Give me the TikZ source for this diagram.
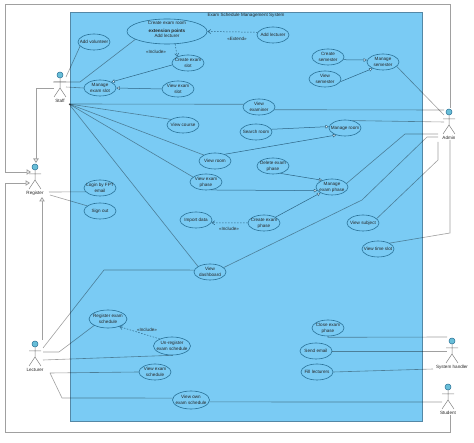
\documentclass[tikz,border=0pt]{standalone}
\usepackage{fontspec}
\setmainfont{Liberation Sans}
\definecolor{sysblue}{RGB}{122,203,244}
\definecolor{sysedge}{RGB}{84,136,166}
\definecolor{ucedge}{RGB}{40,112,150}
\definecolor{linedark}{RGB}{44,100,132}
\definecolor{linegrey}{RGB}{160,160,160}
\definecolor{headfill}{RGB}{104,190,216}
\usetikzlibrary{arrows.meta, shapes.geometric}

\begin{document}
\begin{tikzpicture}[
  x=1pt, y=-1pt,
  usecase/.style={ellipse, draw=ucedge, line width=0.6pt, fill=sysblue,
    minimum width=32pt, minimum height=16pt, inner sep=-4pt,
    align=center, font=\fontsize{4.6}{5.8}\selectfont, text=black!85},
  bigcase/.style={usecase, minimum width=37pt, minimum height=18pt},
  assoc/.style={draw=linegrey, line width=0.6pt, blend mode=multiply},
  part/.style={draw=linedark, line width=0.5pt, -{Triangle[fill=white, length=3.5pt, width=3.5pt]}},
  dep/.style={draw=linedark, line width=0.5pt, dashed, dash pattern=on 1.5pt off 1.5pt, -{Straight Barb[length=3pt, width=4pt]}},
  gen/.style={draw=linegrey, line width=0.8pt, -{Triangle[fill=white, length=4.5pt, width=5.5pt]}},
  tag/.style={font=\fontsize{4.6}{5.6}\selectfont, inner sep=0pt, text=black!85},
  actor/.pic={
    \node[circle, draw=ucedge, fill=headfill, line width=0.5pt, minimum size=6pt, inner sep=0pt] (-head) at (0,0) {};
    \draw[linegrey!80!black, line width=0.5pt] (-head) -- (0,13) (-6,7) -- (6,7) (-6,22) -- (0,13) -- (6,22);
    \node[tag] (-name) at (0,26) {\tikzpictext};
  },
]
\useasboundingbox (0,0) rectangle (474,443);
\node[draw=sysedge, line width=0.9pt, fill=sysblue, minimum width=352pt, minimum height=409pt, inner sep=0pt] (system) at (246,216.5) {};
\node[tag] (systitle) at (246,15) {Exam Schedule Management System};

% use cases
\node[usecase] (addvol) at (94,42) {Add volunteer};
\node[usecase, minimum width=80pt, minimum height=25pt] (croom) at (167,31.5) {};
\node[tag, align=center] (croomtext) at (167,29.5)
  {Create exam room\\[2.5pt]\textbf{extension points}\\Add lecturer};
\node[usecase] (addlect) at (273,35) {Add lecturer};
\node[usecase] (cslot) at (188,63) {Create exam\\slot};
\node[usecase] (mslot) at (100,88) {Manage\\exam slot};
\node[usecase] (vslot) at (178,89) {View exam\\slot};
\node[usecase] (vcourse) at (183,125) {View course};
\node[usecase] (vroom) at (215,161) {View room};
\node[usecase] (vphase) at (206,182) {View exam\\phase};
\node[usecase] (login) at (100,188) {Login by FPT\\email};
\node[usecase] (signout) at (100,211) {Sign out};
\node[usecase] (import) at (196,220) {Import data};
\node[usecase] (cphase) at (264,223) {Create exam\\phase};
\node[usecase] (dphase) at (273,166) {Delete exam\\phase};
\node[usecase] (mphase) at (332,187) {Manage\\exam phase};
\node[usecase] (sroom) at (256,132) {Search room};
\node[usecase] (mroom) at (345,128) {Manage room};
\node[usecase] (vexaminer) at (259,107) {View\\examiner};
\node[usecase] (csem) at (328,57) {Create\\semester};
\node[usecase] (vsem) at (325,79) {View\\semester};
\node[usecase] (msem) at (383,62) {Manage\\semester};
\node[usecase] (vsubject) at (363,223) {View subject};
\node[usecase] (vtime) at (378,249) {View time slot};
\node[usecase] (vdash) at (210,272) {View\\dashboard};
\node[usecase, minimum width=38pt, minimum height=18pt] (regsched) at (108,319) {Register exam\\schedule};
\node[bigcase] (unreg) at (172,346) {Un-register\\exam schedule};
\node[usecase] (vsched) at (155,372) {View exam\\schedule};
\node[bigcase] (vown) at (191,400) {View own\\exam schedule};
\node[usecase] (closep) at (328,328) {Close exam\\phase};
\node[usecase] (sendm) at (316,351) {Send email};
\node[usecase] (fill) at (317,372) {Fill lecturers};

% free ends beside the actors
\coordinate (hub) at (69,104);
\coordinate (frameTL) at (5,4);
\coordinate (frameBL) at (5,432);
\coordinate (stVol) at (66,77);
\coordinate (stRoom) at (53,82);
\coordinate (stRoomB) at (80,82);
\coordinate (stSlot) at (66,87);
\coordinate (stGen) at (54,88);
\coordinate (rgTopIn) at (36,163);
\coordinate (rgFrameA) at (31,172);
\coordinate (rgFrameB) at (30,183);
\coordinate (rgLogin) at (49,192);
\coordinate (rgSign) at (50,195);
\coordinate (rgGen) at (42,197);
\coordinate (lcGen) at (42,340);
\coordinate (lcDash) at (43,348);
\coordinate (lcDashB) at (104,270);
\coordinate (lcReg) at (43,352);
\coordinate (lcRegB) at (59,352);
\coordinate (lcUn) at (43,360);
\coordinate (lcView) at (50,373);
\coordinate (lcOwnB) at (62,398);
\coordinate (adTop) at (450,108);
\coordinate (adSem) at (444,115);
\coordinate (adExaminer) at (444,110);
\coordinate (adRoom) at (444,122);
\coordinate (adPhase) at (438,134);
\coordinate (adPhaseB) at (405,134);
\coordinate (adDash) at (438,137);
\coordinate (adDashB) at (427,137);
\coordinate (adDashC) at (362,200);
\coordinate (adSub) at (438,142);
\coordinate (adSubB) at (438,160);
\coordinate (adTime) at (450,140);
\coordinate (adTimeB) at (450,233);
\coordinate (shClose) at (447,337);
\coordinate (shSend) at (447,351);
\coordinate (shFill) at (433,369);
\coordinate (sdOwn) at (442,402);
\coordinate (sdFrame) at (450,415);

% associations
\draw[assoc] (stVol) -- (addvol.197);
\draw[assoc] (stRoom) -- (stRoomB) -- (croom.194);
\draw[assoc] (stSlot) -- (mslot.west);
\draw[assoc] (hub) -- (vexaminer.170);
\draw[assoc] (hub) -- (vcourse.155);
\draw[assoc] (hub) -- (vroom.152);
\draw[assoc] (hub) -- (vphase.159);
\draw[assoc] (hub) -- (vdash.155);
\draw[assoc] (rgLogin) -- (login.195);
\draw[assoc] (rgSign) -- (signout.158);
\draw[assoc] (lcDash) -- (lcDashB) -- (vdash.173);
\draw[assoc] (lcReg) -- (lcRegB) -- (regsched.205);
\draw[assoc] (lcUn) -- (unreg.-85);
\draw[assoc] (lcView) -- (vsched.west);
\draw[assoc] (lcView) -- (lcOwnB) -- (vown.174);
\draw[assoc] (vown.-6) -- (sdOwn);
\draw[assoc] (msem.-18) -- (adSem);
\draw[assoc] (vexaminer.-10) -- (adExaminer);
\draw[assoc] (mroom.45) -- (adRoom);
\draw[assoc] (mphase.14) -- (adPhaseB) -- (adPhase);
\draw[assoc] (vdash.18) -- (adDashC) -- (adDashB) -- (adDash);
\draw[assoc] (vsubject.18) -- (adSubB) -- (adSub);
\draw[assoc] (vtime.27) -- (adTimeB) -- (adTime);
\draw[assoc] (closep.south) -- ++(0,1) -- (shClose);
\draw[assoc] (sendm.east) -- (shSend);
\draw[assoc] (fill.east) -- (shFill);

% includes, extends and parts
\draw[part] (cslot.187) -- (mslot.28);
\draw[part] (vslot.west) -- (mslot.east);
\draw[part] (csem.-10) -- (msem.173);
\draw[part] (vsem.-10) -- (msem.212);
\draw[part] (sroom.10) -- (mroom.175);
\draw[part] (vroom.35) -- (mroom.219);
\draw[part] (dphase.-45) -- (mphase.145);
\draw[part] (vphase.-60) -- (mphase.194);
\draw[part] (cphase.27) -- (mphase.207);
\draw[dep] (croom.-57) -- (cslot.150);
\draw[dep] (addlect.170) -- (croom.east);
\draw[dep] (cphase.west) -- (import.-10);
\draw[dep] (unreg.150) -- (regsched.-34);
\node[tag] (inclA) at (156,52) {<<Include>>};
\node[tag] (extA) at (237,39) {<<Extend>>};
\node[tag] (inclB) at (229,229) {<<Include>>};
\node[tag] (inclC) at (147,330) {<<Include>>};

% generalizations round the system
\draw[gen] (adTop) |- (frameTL) |- (rgFrameA);
\draw[gen] (sdFrame) |- (frameBL) |- (rgFrameB);
\draw[gen] (stGen) -| (rgTopIn);
\draw[gen] (lcGen) -- (rgGen);

% actors
\pic (staff) at (60,75) [pic text=Staff] {actor};
\pic (register) at (35,167) [pic text=Register] {actor};
\pic (lecturer) at (35,344) [pic text=Lecturer] {actor};
\pic (admin) at (449,112) [pic text=Admin] {actor};
\pic (handler) at (452,341) [pic text=System handler] {actor};
\pic (student) at (448,387) [pic text=Student] {actor};
\end{tikzpicture}
\end{document}
